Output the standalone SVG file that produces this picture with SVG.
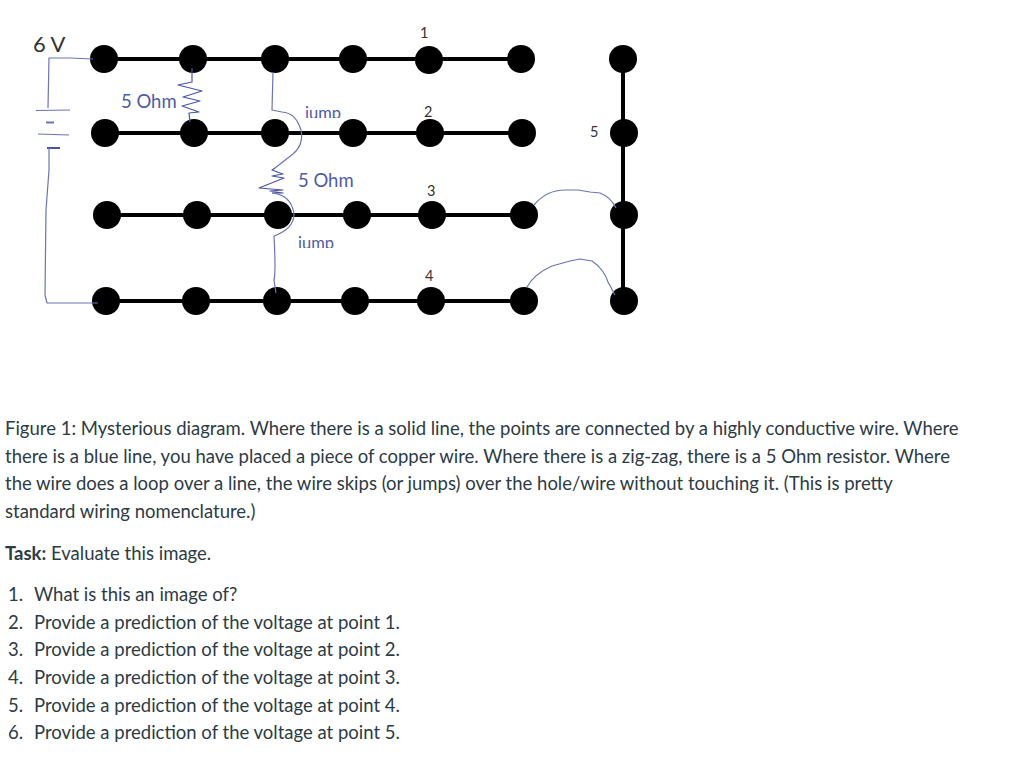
<svg xmlns="http://www.w3.org/2000/svg" width="1024" height="767" viewBox="0 0 1024 767">
<style>
.bar{stroke:#000;stroke-width:4;fill:none}
.dot{fill:#000}
.wire{stroke:#6a74b4;stroke-width:1.2;fill:none;stroke-linejoin:round}
.res{stroke:#4a55a8;stroke-width:1.2;fill:none;stroke-linejoin:round}
.lab{font-family:"Lato","Liberation Sans",sans-serif;fill:#333;font-size:14.500px}
.blue{font-family:"Lato","Liberation Sans",sans-serif;fill:#4f5ba8;font-size:18.500px}
.jump{font-family:"Lato","Liberation Sans",sans-serif;fill:#4f5ba8;font-size:16.500px}
.body{font-family:"Lato","Liberation Sans",sans-serif;fill:#2d3b45;font-size:18.500px}
</style>
<defs>
<clipPath id="c1"><rect x="300" y="100" width="50" height="18"/></clipPath>
<clipPath id="c2"><rect x="295" y="230" width="50" height="18"/></clipPath>
</defs>
<rect width="1024" height="767" fill="#fff"/>
<g id="connectors">
<path class="bar" d="M104 59H521M105 133H522M107 215H524M106 301H524M623 59V301"/>
</g>
<g id="n-r1"><circle class="dot" cx="104" cy="59" r="14"/><circle class="dot" cx="193" cy="59" r="14"/><circle class="dot" cx="275" cy="59" r="14"/><circle class="dot" cx="353" cy="59" r="14"/><circle class="dot" cx="429" cy="60" r="14"/><circle class="dot" cx="521" cy="59" r="14"/></g>
<g id="n-r2"><circle class="dot" cx="105" cy="133" r="14"/><circle class="dot" cx="194" cy="133" r="14"/><circle class="dot" cx="275" cy="133" r="14"/><circle class="dot" cx="353" cy="133" r="14"/><circle class="dot" cx="430" cy="133" r="14"/><circle class="dot" cx="522" cy="133" r="14"/></g>
<g id="n-r3"><circle class="dot" cx="107" cy="215" r="14"/><circle class="dot" cx="197" cy="215" r="14"/><circle class="dot" cx="278" cy="215" r="14"/><circle class="dot" cx="357" cy="215" r="14"/><circle class="dot" cx="432" cy="215" r="14"/><circle class="dot" cx="524" cy="215" r="14"/></g>
<g id="n-r4"><circle class="dot" cx="106" cy="301" r="14"/><circle class="dot" cx="196" cy="301" r="14"/><circle class="dot" cx="277" cy="301" r="14"/><circle class="dot" cx="355" cy="301" r="14"/><circle class="dot" cx="431" cy="301" r="14"/><circle class="dot" cx="524" cy="301" r="14"/></g>
<g id="n-c5"><circle class="dot" cx="623" cy="59" r="14"/><circle class="dot" cx="624" cy="133" r="14"/><circle class="dot" cx="624" cy="215" r="14"/><circle class="dot" cx="624" cy="301" r="14"/></g>
<g id="wires">
<path class="wire" d="M93 59L70 58L49 58L48 108"/>
<path class="wire" d="M36 110.500L70 110M38 134L69 135"/>
<path class="wire" style="stroke-width:2" d="M46 122.500H54"/>
<path class="res" style="stroke-width:2" d="M47 148H60"/>
<path class="wire" d="M49 148L49 170L46 210L45 295L47 303L98 303"/>
<path class="res" d="M192 68V82L178 85L202 91L183 97L200 101L182 106L199 112L189 113L190 122"/>
<path class="wire" d="M273 72L272 110L282 112C292 113 297 118 301 130C303 140 300 148 293 154L275 168"/>
<path class="res" d="M275 168L272 170L283 174L272 176L284 178L259 188L283 190L270 191L283 193L272 193"/>
<path class="wire" d="M272 193C283 194 292 200 294 214C294 225 285 232 274 236C275 255 276 272 274 280L276 293"/>
<path class="wire" d="M534 205C543 194 555 190 565 190L578 190L590 192L600 193C608 196 613 202 616 208"/>
<path class="wire" d="M527 287C533 276 543 270 552 266L570 261L580 259L592 261C600 266 606 275 608 282L615 295"/>
</g>
<g id="labels">
<text x="33" y="52" font-family="Lato,'Liberation Sans',sans-serif" font-size="22" fill="#333">6 V</text>
<text class="lab" x="420" y="38">1</text>
<text class="lab" x="424" y="117">2</text>
<text class="lab" x="427" y="196">3</text>
<text class="lab" x="425" y="281">4</text>
<text class="lab" x="590" y="137">5</text>
<text class="blue" x="121" y="108">5 Ohm</text>
<text class="blue" x="298" y="187">5 Ohm</text>
<text class="jump" x="305" y="119" clip-path="url(#c1)">jump</text>
<text class="jump" x="298" y="249" clip-path="url(#c2)">jump</text>
</g>
<g id="text">
<text class="body" x="5" y="435">Figure 1: Mysterious diagram. Where there is a solid line, the points are connected by a highly conductive wire. Where</text>
<text class="body" x="5" y="462.500">there is a blue line, you have placed a piece of copper wire. Where there is a zig-zag, there is a 5 Ohm resistor. Where</text>
<text class="body" x="5" y="490">the wire does a loop over a line, the wire skips (or jumps) over the hole/wire without touching it. (This is pretty</text>
<text class="body" x="5" y="518">standard wiring nomenclature.)</text>
<text class="body" x="5" y="559.500"><tspan font-weight="700">Task:</tspan> Evaluate this image.</text>
<text class="body" x="8" y="600.500">1.</text><text class="body" x="34" y="600.500">What is this an image of?</text>
<text class="body" x="8" y="628.500">2.</text><text class="body" x="34" y="628.500">Provide a prediction of the voltage at point 1.</text>
<text class="body" x="8" y="656">3.</text><text class="body" x="34" y="656">Provide a prediction of the voltage at point 2.</text>
<text class="body" x="8" y="683.500">4.</text><text class="body" x="34" y="683.500">Provide a prediction of the voltage at point 3.</text>
<text class="body" x="8" y="711.500">5.</text><text class="body" x="34" y="711.500">Provide a prediction of the voltage at point 4.</text>
<text class="body" x="8" y="739">6.</text><text class="body" x="34" y="739">Provide a prediction of the voltage at point 5.</text>
</g>
</svg>
